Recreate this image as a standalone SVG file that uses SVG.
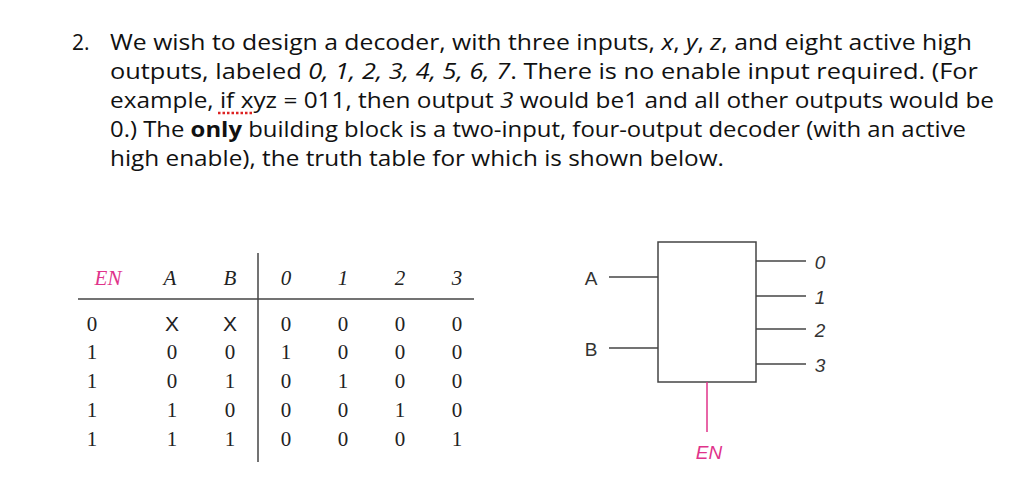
<svg xmlns="http://www.w3.org/2000/svg" width="1024" height="502" viewBox="0 0 1024 502">
<style>
.p{font-family:"Open Sans","DejaVu Sans",sans-serif;font-size:21px;fill:#111}
.t{font-family:"Liberation Serif",serif;font-size:21px;fill:#222;text-anchor:middle}
.h{font-style:italic}
.s{font-family:"Liberation Sans",sans-serif;font-size:19px;fill:#333;text-anchor:middle}
.ln{stroke:#444;stroke-width:1.5;fill:none}
</style>
<rect width="1024" height="502" fill="#fff"/>
<g id="question">
<text class="p" x="72" y="50">2.</text>
<text class="p" x="110" y="50" textLength="862" lengthAdjust="spacingAndGlyphs">We wish to design a decoder, with three inputs, <tspan font-style="italic">x</tspan>, <tspan font-style="italic">y</tspan>, <tspan font-style="italic">z</tspan>, and eight active high</text>
<text class="p" x="110" y="79" textLength="868" lengthAdjust="spacingAndGlyphs">outputs, labeled <tspan font-style="italic">0, 1, 2, 3, 4, 5, 6, 7</tspan>. There is no enable input required. (For</text>
<text class="p" x="110" y="108" textLength="884" lengthAdjust="spacingAndGlyphs">example, if xyz = 011, then output <tspan font-style="italic">3</tspan> would be1 and all other outputs would be</text>
<text class="p" x="110" y="137" textLength="856" lengthAdjust="spacingAndGlyphs">0.) The <tspan font-weight="bold">only</tspan> building block is a two-input, four-output decoder (with an active</text>
<text class="p" x="110" y="166" textLength="614" lengthAdjust="spacingAndGlyphs">high enable), the truth table for which is shown below.</text>
<line x1="218" y1="113" x2="254" y2="113" stroke="#d22" stroke-width="2.5" stroke-dasharray="2.5,2"/>
</g>
<g id="truth-table">
<line class="ln" x1="78" y1="299" x2="474" y2="299"/>
<line class="ln" x1="258" y1="253" x2="258" y2="462"/>
<g class="t h">
<text x="108" y="285" fill="#e0338a">EN</text>
<text x="170" y="285">A</text><text x="230" y="285">B</text>
<text x="286" y="285">0</text><text x="343" y="285">1</text><text x="400" y="285">2</text><text x="457" y="285">3</text>
</g>
<g class="t">
<text x="92" y="331">0</text><text x="172" y="331" font-family="Liberation Sans">X</text><text x="230" y="331" font-family="Liberation Sans">X</text><text x="286" y="331">0</text><text x="343" y="331">0</text><text x="400" y="331">0</text><text x="457" y="331">0</text>
<text x="92" y="359">1</text><text x="172" y="359">0</text><text x="230" y="359">0</text><text x="286" y="359">1</text><text x="343" y="359">0</text><text x="400" y="359">0</text><text x="457" y="359">0</text>
<text x="92" y="388">1</text><text x="172" y="388">0</text><text x="230" y="388">1</text><text x="286" y="388">0</text><text x="343" y="388">1</text><text x="400" y="388">0</text><text x="457" y="388">0</text>
<text x="92" y="417">1</text><text x="172" y="417">1</text><text x="230" y="417">0</text><text x="286" y="417">0</text><text x="343" y="417">0</text><text x="400" y="417">1</text><text x="457" y="417">0</text>
<text x="92" y="446">1</text><text x="172" y="446">1</text><text x="230" y="446">1</text><text x="286" y="446">0</text><text x="343" y="446">0</text><text x="400" y="446">0</text><text x="457" y="446">1</text>
</g>
</g>
<g id="decoder">
<rect class="ln" x="658" y="242" width="98" height="140"/>
</g>
<g id="connectors">
<line class="ln" x1="609" y1="277" x2="658" y2="277"/>
<line class="ln" x1="609" y1="348" x2="658" y2="348"/>
<line class="ln" x1="756" y1="261" x2="806" y2="261"/>
<line class="ln" x1="756" y1="296" x2="806" y2="296"/>
<line class="ln" x1="756" y1="329" x2="806" y2="329"/>
<line class="ln" x1="756" y1="364" x2="806" y2="364"/>
<line x1="707" y1="382" x2="707" y2="432" stroke="#e0338a" stroke-width="1.5"/>
</g>
<g id="labels" class="s">
<text x="591" y="285">A</text>
<text x="591" y="356">B</text>
<text x="820" y="269" font-style="italic">0</text>
<text x="820" y="304" font-style="italic">1</text>
<text x="820" y="337" font-style="italic">2</text>
<text x="820" y="372" font-style="italic">3</text>
<text x="709" y="459" fill="#e0338a" font-style="italic">EN</text>
</g>
</svg>
